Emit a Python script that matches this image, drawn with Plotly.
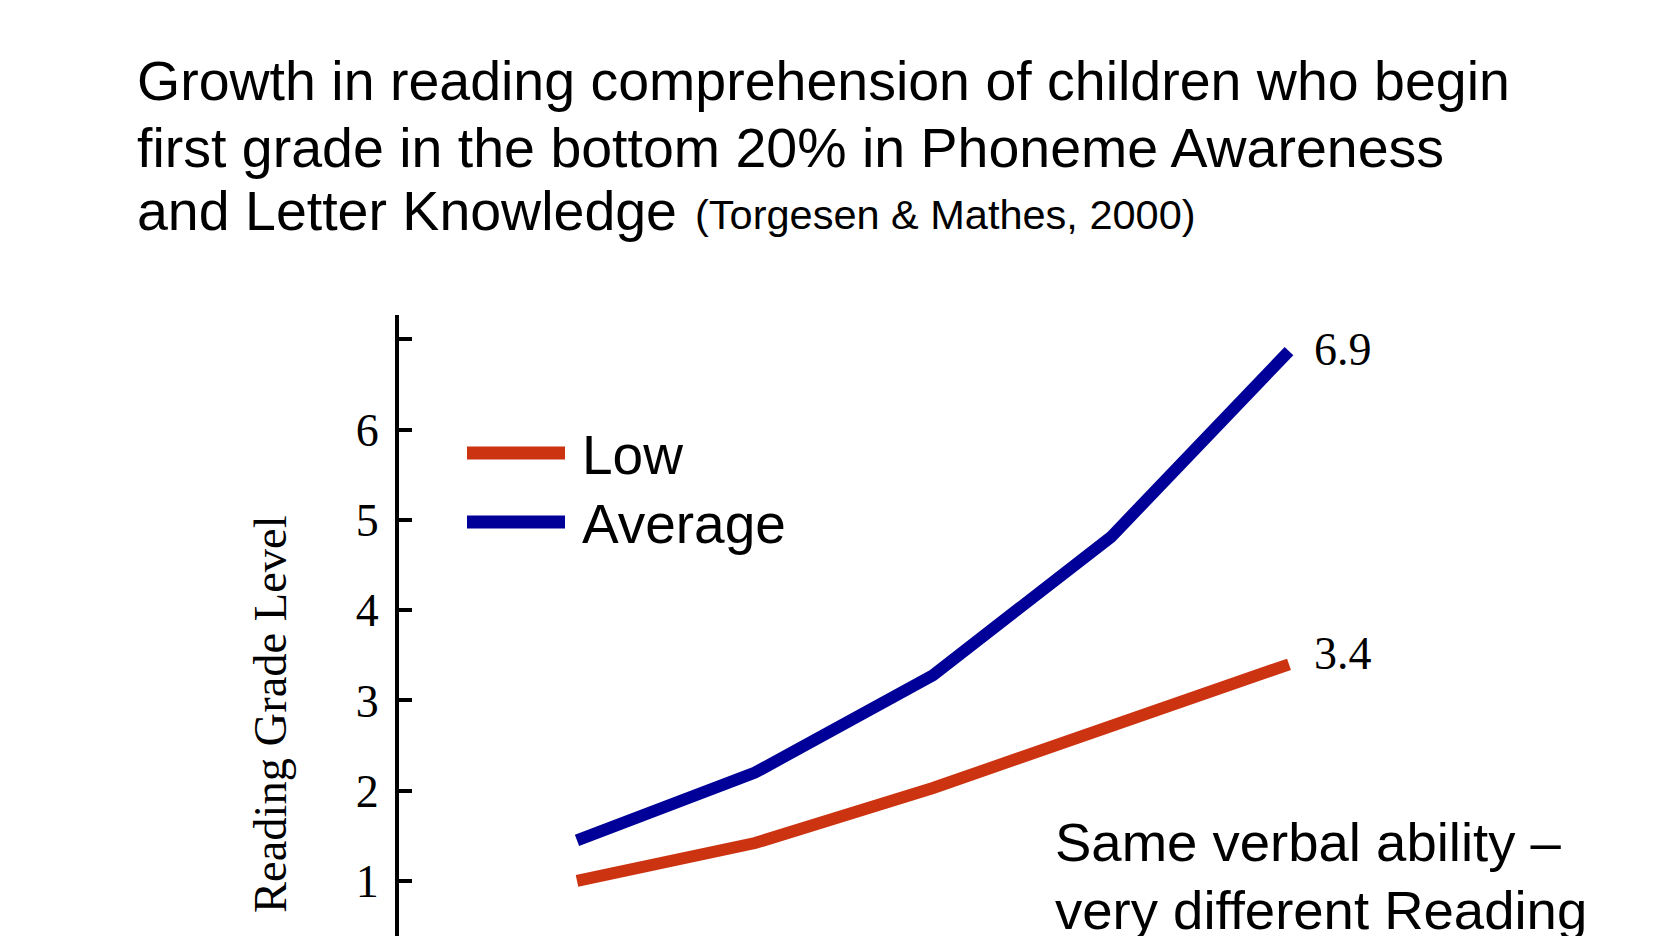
import plotly.graph_objects as go

# ---- data ----
grades = [1, 2, 3, 4, 5]
low_values = [1.0, 1.42, 2.03, 2.70, 3.4]
avg_values = [1.45, 2.20, 3.28, 4.81, 6.87]
series_names = ["Low", "Average"]
y_tick_vals = [1, 2, 3, 4, 5, 6, 7]
y_tick_text = ["1", "2", "3", "4", "5", "6", ""]

title_lines = [
    "Growth in reading comprehension of children who begin",
    "first grade in the bottom 20% in Phoneme Awareness",
    "and Letter Knowledge",
]
citation = "(Torgesen & Mathes, 2000)"
y_title = "Reading Grade Level"
note_lines = ["Same verbal ability \u2013", "very different Reading"]

# ---- layout geometry ----
W, H = 1664, 936
ML, MR, MT, MB = 399, 197, 315, 0
PW, PH = W - ML - MR, H - MT - MB

RED = "#CC3311"
BLUE = "#000099"
SANS = "Liberation Sans, Arial, Helvetica, sans-serif"
SERIF = "Liberation Serif, Times New Roman, serif"


def px(x):
    return (x - ML) / PW


def py(y):
    return (H - MB - y) / PH


fig = go.Figure()
fig.add_trace(go.Scatter(x=grades, y=low_values, mode="lines", name=series_names[0],
                         line=dict(color=RED, width=12), showlegend=False, hoverinfo="skip"))
fig.add_trace(go.Scatter(x=grades, y=avg_values, mode="lines", name=series_names[1],
                         line=dict(color=BLUE, width=12), showlegend=False, hoverinfo="skip"))

annotations = []
# title lines
title_centers = [81, 148, 211]
for line, cy in zip(title_lines, title_centers):
    annotations.append(dict(text=line, x=px(135), y=py(cy), xref="paper", yref="paper",
                            xanchor="left", yanchor="middle", showarrow=False,
                            font=dict(family=SANS, size=55.5, color="black")))
annotations.append(dict(text=citation, x=px(693), y=py(215), xref="paper", yref="paper",
                        xanchor="left", yanchor="middle", showarrow=False,
                        font=dict(family=SANS, size=41.5, color="black")))
# y-axis title
annotations.append(dict(text=y_title, x=px(270), y=py(714), xref="paper", yref="paper",
                        xanchor="center", yanchor="middle", textangle=-90, showarrow=False,
                        font=dict(family=SERIF, size=46.5, color="black")))
# end labels
annotations.append(dict(text=f"{avg_values[-1]:.1f}", x=grades[-1], y=avg_values[-1],
                        xref="x", yref="y", xanchor="left", yanchor="middle",
                        xshift=23, yshift=2, showarrow=False,
                        font=dict(family=SERIF, size=46, color="black")))
annotations.append(dict(text=f"{low_values[-1]:.1f}", x=grades[-1], y=low_values[-1],
                        xref="x", yref="y", xanchor="left", yanchor="middle",
                        xshift=23, yshift=11, showarrow=False,
                        font=dict(family=SERIF, size=46, color="black")))
# legend (manual)
legend_rows = [(series_names[0], RED, 453), (series_names[1], BLUE, 522)]
shapes = []
for name, col, cy in legend_rows:
    shapes.append(dict(type="line", xref="paper", yref="paper",
                       x0=px(467), x1=px(565), y0=py(cy), y1=py(cy),
                       line=dict(color=col, width=13)))
    annotations.append(dict(text=name, x=px(580), y=py(cy + 2), xref="paper", yref="paper",
                            xanchor="left", yanchor="middle", showarrow=False,
                            font=dict(family=SANS, size=55, color="black")))
# note
for line, cy in zip(note_lines, [842, 910]):
    annotations.append(dict(text=line, x=px(1053), y=py(cy), xref="paper", yref="paper",
                            xanchor="left", yanchor="middle", showarrow=False,
                            font=dict(family=SANS, size=54.5, color="black")))

fig.update_layout(
    width=W, height=H,
    margin=dict(l=ML, r=MR, t=MT, b=MB, pad=0),
    paper_bgcolor="white", plot_bgcolor="white",
    showlegend=False,
    xaxis=dict(visible=False, range=[0, 6], fixedrange=True),
    yaxis=dict(range=[0.39, 7.27], tickvals=y_tick_vals, ticktext=y_tick_text,
               showline=True, linewidth=4, linecolor="black",
               ticks="inside", ticklen=13, tickwidth=4, tickcolor="black",
               showgrid=False, zeroline=False, ticklabelstandoff=7,
               tickfont=dict(family=SERIF, size=46, color="black"), fixedrange=True),
    annotations=annotations,
    shapes=shapes,
)

fig.write_html(
    "out.html",
    config={"displayModeBar": False},
    post_script="document.body.style.margin='0';document.body.style.overflow='hidden';",
)
